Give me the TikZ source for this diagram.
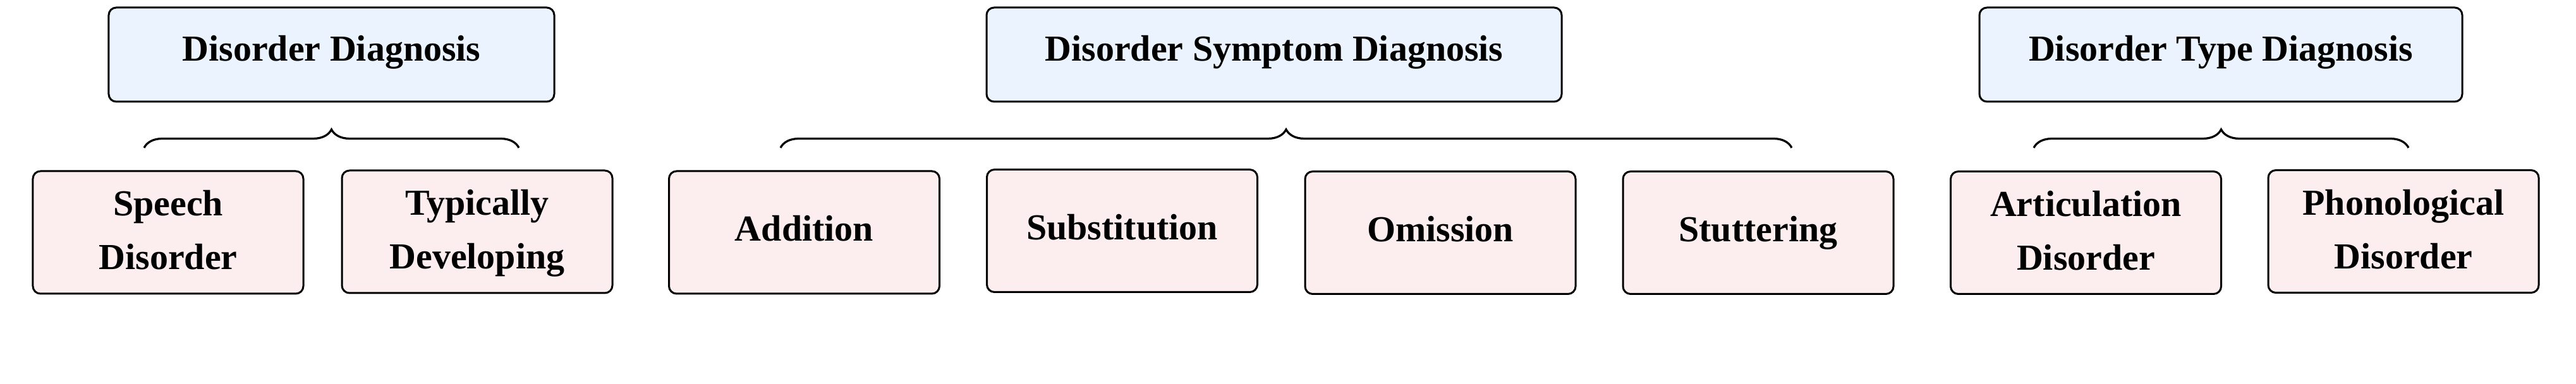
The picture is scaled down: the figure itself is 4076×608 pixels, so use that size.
\documentclass[tikz,border=0pt]{standalone}
\usepackage{fontspec}
\setmainfont{Liberation Serif}
\usetikzlibrary{decorations.pathreplacing}
\definecolor{topfill}{HTML}{EAF3FE}
\definecolor{botfill}{HTML}{FCEEEE}
\newcommand\topstr{\rule{0pt}{9.2pt}}
\newcommand\botstr{\rule[-2.6pt]{0pt}{2.6pt}}
\tikzset{
  basebox/.style={draw=black, line width=0.6pt, rounded corners=2.4pt, inner sep=0pt, outer sep=0pt,
    align=center, font=\bfseries\fontsize{11.6pt}{17pt}\selectfont},
  topbox/.style={basebox, fill=topfill, minimum height=29.8pt, text height=8.2pt, text depth=4.0pt},
  botbox/.style={basebox, fill=botfill, minimum width=85.6pt, minimum height=38.8pt},
  oneline/.style={botbox, text height=8.2pt, text depth=2.6pt},
  bracket/.style={draw=black, line width=0.65pt, decorate, decoration={brace, amplitude=5.8pt}}
}
\begin{document}
\begin{tikzpicture}[x=0.2pt, y=-0.2pt]
\useasboundingbox (0,0) rectangle (4076,608);
% top boxes
\node[topbox, minimum width=141pt] (dd) at (524.5,86.5) {Disorder Diagnosis};
\node[topbox, minimum width=182pt] (dsd) at (2016,86.5) {Disorder Symptom Diagnosis};
\node[topbox, minimum width=152.8pt] (dtd) at (3514,86.5) {Disorder Type Diagnosis};
% bottom boxes
\node[botbox] (speech) at (266,368) {\topstr Speech\\Disorder\botstr};
\node[botbox] (typ) at (755,367) {\topstr Typically\\Developing\botstr};
\node[oneline] (add) at (1272.5,368) {Addition};
\node[oneline] (sub) at (1775.5,365.5) {Substitution};
\node[oneline] (omi) at (2279,368.5) {Omission};
\node[oneline] (stu) at (2782,368.5) {Stuttering};
\node[botbox] (art) at (3300.5,368.5) {\topstr Articulation\\Disorder\botstr};
\node[botbox] (pho) at (3803,366.5) {\topstr Phonological\\Disorder\botstr};
% brace end points
\coordinate (b1l) at (228,234);
\coordinate (b1r) at (821,234);
\coordinate (b2l) at (1235,234);
\coordinate (b2r) at (2835,234);
\coordinate (b3l) at (3218,234);
\coordinate (b3r) at (3811,234);
\draw[bracket] (b1l) -- (b1r);
\draw[bracket] (b2l) -- (b2r);
\draw[bracket] (b3l) -- (b3r);
\end{tikzpicture}
\end{document}
